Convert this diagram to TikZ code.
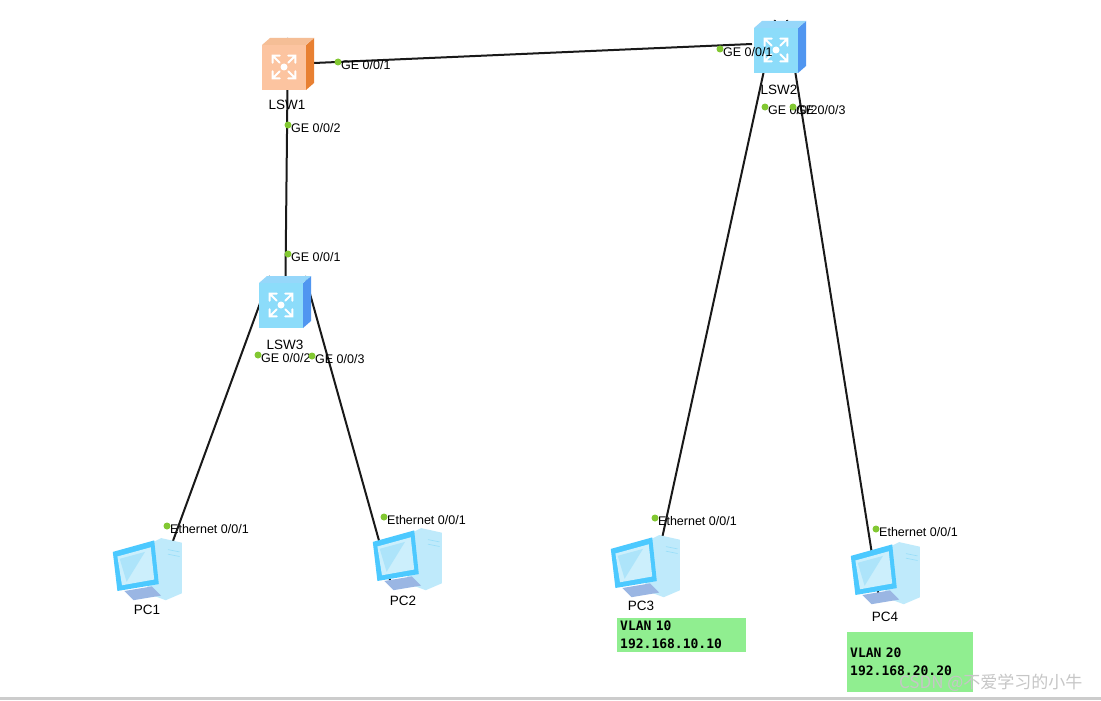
\documentclass[tikz,border=0pt]{standalone}
\usepackage{fontspec}
\setmainfont{Liberation Sans}
\newfontfamily\monof{DejaVu Sans Mono}
\newfontfamily\cjk{Noto Sans CJK SC}
\definecolor{orside}{RGB}{232,128,50}
\definecolor{ortop}{RGB}{245,190,150}
\definecolor{orfront}{RGB}{252,196,160}
\definecolor{blside}{RGB}{80,150,240}
\definecolor{bltop}{RGB}{150,215,250}
\definecolor{blfront}{RGB}{140,220,250}
\definecolor{dotg}{RGB}{130,200,50}
\definecolor{vgreen}{RGB}{144,238,144}
\begin{document}
\begin{tikzpicture}[x=1pt,y=-1pt,
 lbl/.style={font=\fontsize{12.5}{13}\selectfont,inner sep=1pt},
 port/.style={lbl,anchor=west},
 dot/.style={circle,fill=dotg,inner sep=0pt,minimum size=7pt},
 link/.style={line width=2pt,black!90},
 vbox/.style={fill=vgreen,font=\monof\bfseries\fontsize{13}{18}\selectfont,align=left,inner sep=3pt,anchor=north west,text width=123pt},
 pics/sw/.style n args={3}{code={
   \fill[#2] (18,-18) -- (26,-25) -- (26,20) -- (18,27) -- cycle;
   \fill[#3] (-26,-18) -- (-18,-25) -- (26,-25) -- (18,-18) -- cycle;
   \fill[#1] (-26,-18) rectangle (18,27);
   \begin{scope}[white,line width=2pt,line cap=round]
     \fill (-4,4) circle (3.5);
     \foreach \a in {45,135,225,315}{\draw[rotate around={\a:(-4,4)}] (2,4) -- (12,4) (7,-1) -- (12,4) -- (7,9);}
   \end{scope}}},
 pics/pc/.style={code={\begin{scope}[scale=1.15]
   \fill[cyan!25] (2,-20) -- (14,-26) -- (32,-22) -- (32,22) -- (18,28) -- (2,22) -- cycle;
   \draw[cyan!40,line width=0.6pt] (20,-16) -- (30,-14) (20,-12) -- (30,-10);
   \fill[cyan!50!blue!40] (-18,20) -- (6,16) -- (14,24) -- (-10,28) -- cycle;
   \fill[blue!30!cyan!70] (-28,-14) -- (8,-24) -- (12,14) -- (-24,20) -- cycle;
   \fill[cyan!20] (-24,-10) -- (5,-18) -- (8,10) -- (-20,15) -- cycle;
   \fill[cyan!40,opacity=.6] (-22,-8) -- (0,-14) -- (-16,12) -- cycle;
 \end{scope}}}]
\useasboundingbox (0,0) rectangle (1101,701);
\fill[white] (0,0) rectangle (1101,701);
\draw[gray!40,line width=3pt] (0,698) -- (1101,698);

\coordinate (s1) at (288,63);
\coordinate (s2) at (780,46);
\coordinate (s3) at (285,301);
\coordinate (p1) at (145,568);
\coordinate (p2) at (405,558);
\coordinate (p3) at (643,565);
\coordinate (p4) at (883,572);

\draw[link] ([xshift=26]s1) -- ([xshift=-28,yshift=2]s2);
\draw[link] ([yshift=25]s1) -- ([yshift=-24]s3);
\draw[link] ([xshift=-15,yshift=25]s3) -- ([xshift=10,yshift=-22]p1);
\draw[link] ([xshift=20,yshift=25]s3) -- ([xshift=-15,yshift=-22]p2);
\draw[link] ([xshift=-5,yshift=26]s2) -- ([xshift=8,yshift=-24]p3);
\draw[link] ([xshift=7,yshift=26]s2) -- ([xshift=-4,yshift=-26]p4);

\pic at (s1) {sw={orfront}{orside}{ortop}};
\pic at (s2) {sw={blfront}{blside}{bltop}};
\pic at (s3) {sw={blfront}{blside}{bltop}};
\pic at (p1) {pc};
\pic at (p2) {pc};
\pic at (p3) {pc};
\pic at (p4) {pc};

\node[lbl,font=\fontsize{13.5}{14}\selectfont] (l1) at (287,105) {LSW1};
\node[lbl,font=\fontsize{13.5}{14}\selectfont] (l2) at (779,90) {LSW2};
\node[lbl,font=\fontsize{13.5}{14}\selectfont] (l3) at (285,345) {LSW3};
\node[lbl,font=\fontsize{13.5}{14}\selectfont] (n1) at (147,610) {PC1};
\node[lbl,font=\fontsize{13.5}{14}\selectfont] (n2) at (403,601) {PC2};
\node[lbl,font=\fontsize{13.5}{14}\selectfont] (n3) at (641,606) {PC3};
\node[lbl,font=\fontsize{13.5}{14}\selectfont] (n4) at (885,617) {PC4};

\foreach \x/\y/\t/\n in {338/62/GE 0\slash 0\slash 1/a,720/49/GE 0\slash 0\slash 1/b,288/125/GE 0\slash 0\slash 2/c,288/254/GE 0\slash 0\slash 1/d,
 258/355/GE 0\slash 0\slash 2/e,312/356/GE 0\slash 0\slash 3/f,167/526/Ethernet 0\slash 0\slash 1/g,384/517/Ethernet 0\slash 0\slash 1/h,
 765/107/GE 0\slash 0\slash 2/i,793/107/GE 0\slash 0\slash 3/j,655/518/Ethernet 0\slash 0\slash 1/k,876/529/Ethernet 0\slash 0\slash 1/m}{
 \node[dot] (d\n) at (\x,\y) {};
 \node[port] (t\n) at (\x+2,\y+3) {\t};
}

\node[vbox] (v1) at (617,618) {VLAN 10\\192.168.10.10};
\node[vbox,text width=120pt,minimum height=60pt] (v2) at (847,632) {VLAN 20\\192.168.20.20};
\node[font=\cjk\fontsize{17}{18}\selectfont,text=gray!45,anchor=east] (wm) at (1086,683) {CSDN @不爱学习的小牛};
\end{tikzpicture}
\end{document}
